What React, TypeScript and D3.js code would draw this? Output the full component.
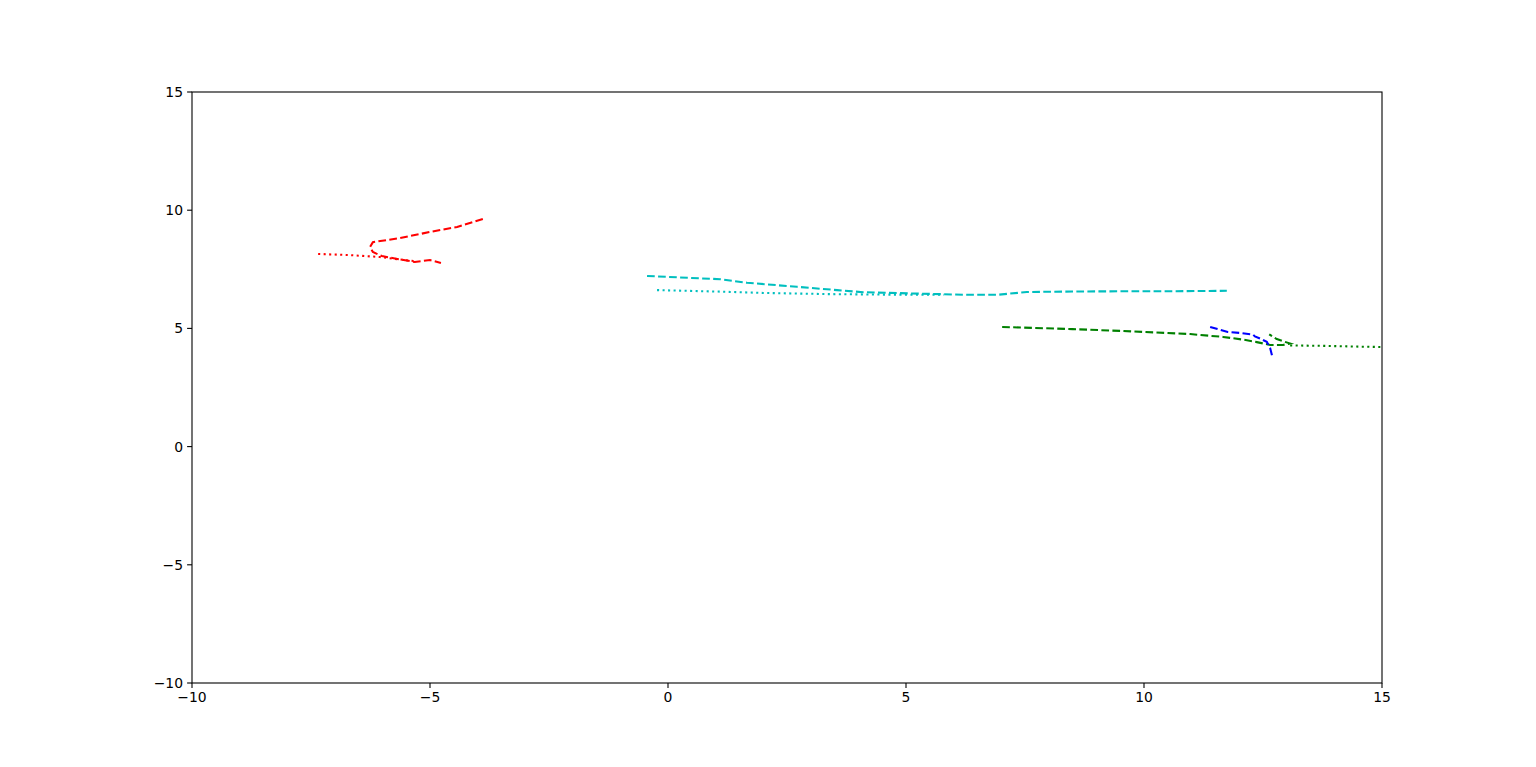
import React from "react";
import * as d3 from "d3";

const xTicks = [-10, -5, 0, 5, 10, 15];
const yTicks = [-10, -5, 0, 5, 10, 15];

const redDashedX = [-3.89, -4.43, -5.0, -5.63, -6.2, -6.26, -6.2, -6.01, -5.69, -5.32, -5.0, -4.77];
const redDashedY = [9.63, 9.29, 9.08, 8.82, 8.65, 8.44, 8.23, 8.06, 7.94, 7.81, 7.89, 7.77];
const redDottedX = [-7.35, -6.68, -6.05, -5.53, -5.3];
const redDottedY = [8.15, 8.1, 8.02, 7.89, 7.84];

const cyanDashedX = [-0.44, 0.2, 1.1, 1.66, 2.71, 3.55, 4.1, 5.5, 6.3, 6.91, 7.54, 8.5, 9.5, 10.5, 11.74];
const cyanDashedY = [7.22, 7.16, 7.08, 6.93, 6.76, 6.62, 6.53, 6.46, 6.42, 6.42, 6.54, 6.56, 6.57, 6.57, 6.59];
const cyanDottedX = [-0.23, 1.0, 2.0, 3.4, 4.5, 5.8];
const cyanDottedY = [6.62, 6.56, 6.5, 6.45, 6.43, 6.42];

const greenDashedX = [7.02, 8.5, 9.56, 10.97, 11.66, 12.1, 12.37, 12.65, 12.92, 13.07, 12.9, 12.79, 12.63];
const greenDashedY = [5.06, 4.97, 4.89, 4.76, 4.64, 4.52, 4.42, 4.3, 4.3, 4.36, 4.47, 4.55, 4.75];
const greenDottedX = [13.07, 13.8, 14.5, 15.3];
const greenDottedY = [4.28, 4.26, 4.23, 4.2];

const blueDashedX = [11.39, 11.76, 12.06, 12.29, 12.33, 12.46, 12.58, 12.65, 12.69];
const blueDashedY = [5.06, 4.85, 4.8, 4.74, 4.66, 4.55, 4.43, 4.17, 3.85];

const series = [
  { xs: redDottedX, ys: redDottedY, color: "#ff0000", dash: "2.08,3.43" },
  { xs: redDashedX, ys: redDashedY, color: "#ff0000", dash: "7.7,3.33" },
  { xs: cyanDottedX, ys: cyanDottedY, color: "#00bfbf", dash: "2.08,3.43" },
  { xs: cyanDashedX, ys: cyanDashedY, color: "#00bfbf", dash: "7.7,3.33" },
  { xs: greenDashedX, ys: greenDashedY, color: "#008000", dash: "7.7,3.33" },
  { xs: greenDottedX, ys: greenDottedY, color: "#008000", dash: "2.08,3.43" },
  { xs: blueDashedX, ys: blueDashedY, color: "#0000ff", dash: "7.7,3.33" },
];

export default function App() {
  const W = 1536, H = 767;
  const left = 192, right = 1382, top = 92, bottom = 683;
  const x = d3.scaleLinear().domain([-10, 15]).range([left, right]);
  const y = d3.scaleLinear().domain([-10, 15]).range([bottom, top]);
  const fmt = (v: number) => (v < 0 ? "\u2212" + Math.abs(v) : String(v));
  const line = (xs: number[], ys: number[]) =>
    d3.line<number>().x((_, i) => x(xs[i])).y((_, i) => y(ys[i]))(xs.map((_, i) => i)) || "";
  return (
    <svg width={W} height={H} style={{ position: "absolute", left: 0, top: 0, background: "#fff" }}
      fontFamily="DejaVu Sans" fontSize={13.9}>
      <defs>
        <clipPath id="plotclip">
          <rect x={left} y={top} width={right - left} height={bottom - top} />
        </clipPath>
      </defs>
      <rect x={0} y={0} width={W} height={H} fill="#fff" />
      <g clipPath="url(#plotclip)">
        {series.map((s, i) => (
          <path key={i} d={line(s.xs, s.ys)} fill="none" stroke={s.color} strokeWidth={2.08}
            strokeDasharray={s.dash} />
        ))}
      </g>
      <rect x={left} y={top} width={right - left} height={bottom - top} fill="none" stroke="#000" strokeWidth={1.1} />
      {xTicks.map((t) => (
        <g key={"x" + t}>
          <line x1={x(t)} x2={x(t)} y1={bottom} y2={bottom + 4.9} stroke="#000" strokeWidth={1.1} />
          <text x={x(t)} y={bottom + 9} textAnchor="middle" dominantBaseline="hanging">{fmt(t)}</text>
        </g>
      ))}
      {yTicks.map((t) => (
        <g key={"y" + t}>
          <line x1={left} x2={left - 4.9} y1={y(t)} y2={y(t)} stroke="#000" strokeWidth={1.1} />
          <text x={left - 9} y={y(t)} textAnchor="end" dominantBaseline="central">{fmt(t)}</text>
        </g>
      ))}
    </svg>
  );
}
